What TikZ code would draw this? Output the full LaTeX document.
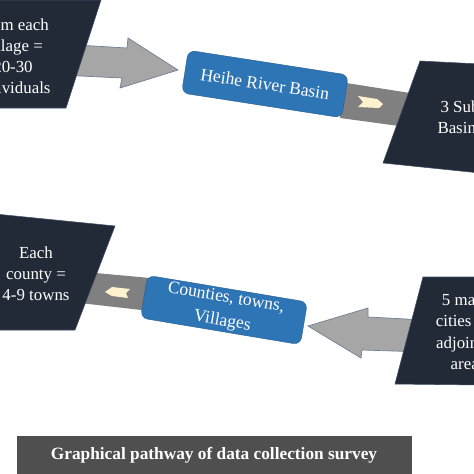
\documentclass[tikz,border=0pt]{standalone}
\usepackage{fontspec}
\setmainfont{Liberation Serif}
\definecolor{navy}{HTML}{222A38}
\definecolor{navyedge}{HTML}{3E4D63}
\definecolor{boxblue}{HTML}{2E75B6}
\definecolor{arrowgray}{HTML}{A6A6A6}
\definecolor{arrowedge}{HTML}{6F7F95}
\definecolor{bandgray}{HTML}{808080}
\definecolor{cream}{HTML}{FFF2CC}
\definecolor{barcolor}{HTML}{4F4F4F}
\tikzset{
    darkshape/.style={fill=navy, draw=navyedge, line width=0.4pt},
    darktext/.style={text=white, align=center, font=\fontsize{12}{15}\selectfont},
    bluebox/.style={fill=boxblue, draw=boxblue!80!black, line width=0.3pt, rounded corners=5pt,
        minimum width=4.05cm, minimum height=1.08cm, text=white, align=center,
        font=\fontsize{12.5}{17}\selectfont, inner sep=1pt},
    blockarrow/.style={fill=arrowgray, draw=arrowedge, line width=0.5pt, line join=miter},
    band/.style={fill=bandgray},
    chevron/.style={fill=cream},
}
\begin{document}
\begin{tikzpicture}[x=0.025cm, y=-0.025cm]
        \useasboundingbox (0,0) rectangle (474,474);
        \clip (0,0) rectangle (474,474);

        % block arrows, under the dark shapes
        \draw[blockarrow] (60,44) -- (127,48) -- (128,38) -- (178,70) -- (120,88) -- (122,78) -- (60,75) -- cycle;
        \draw[blockarrow] (308,326) -- (368,308) -- (368,317) -- (425,320) -- (425,352) -- (362,350) -- (361,358) -- cycle;

        % bands between boxes
        \fill[band] (340,82) -- (410,93) -- (399,126) -- (340,118) -- cycle;
        \fill[band] (85,272) -- (150,278) -- (150,311) -- (80,303) -- cycle;

        % dark shapes
        \draw[darkshape] (-5,0) -- (101,0) -- (66,108) -- (-5,108) -- cycle;
        \node[darktext] (village) at (13,56) {From each\\village =\\20-30\\individuals};

        \draw[darkshape] (420,61) -- (480,64) -- (480,173) -- (383,163) -- cycle;
        \node[darktext] (subbasin) at (460,117) {3 Sub\\Basins};

        \draw[darkshape] (423,277) -- (480,277) -- (480,385) -- (395,384) -- cycle;
        \node[darktext] (cities) at (468,332) {5 major\\cities and\\adjoining\\areas};

        \draw[darkshape] (-5,214) -- (115,226) -- (75,330) -- (-5,330) -- cycle;
        \node[darktext] (county) at (36,274) {Each\\county =\\4-9 towns};

        % blue boxes
        \node[bluebox, rotate=-8.8] (heihe) at (265,84) {Heihe River Basin};
        \node[bluebox, rotate=-9.5] (counties) at (224,310) {Counties, towns,\\Villages};

        % small chevrons in the bands
        \fill[chevron] (358,96) -- (377,99) -- (383,104) -- (379,108) -- (358,107) -- (363,102) -- cycle;
        \fill[chevron] (105,292) -- (112,287) -- (130,289) -- (126,293) -- (128,298) -- (112,296) -- cycle;

        % caption bar
        \fill[barcolor] (17,436) rectangle (412,476);
        \node[text=white, font=\fontsize{12.3}{14}\selectfont\bfseries] (caption) at (214,455) {Graphical pathway of data collection survey};
\end{tikzpicture}
\end{document}
